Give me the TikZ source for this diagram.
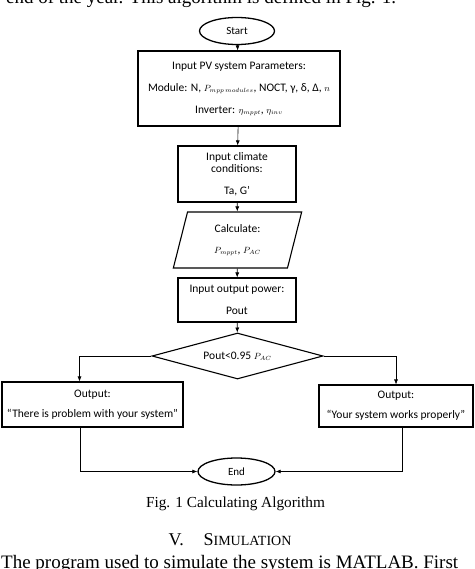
\documentclass[tikz,border=0pt]{standalone}
\usepackage{fontspec}
\setmainfont{Liberation Serif}
\newfontfamily\flowfont{Carlito}
\usetikzlibrary{shapes.geometric,arrows.meta}

\newcommand{\smallmath}[1]{{\fontsize{9}{12}\selectfont$#1$}}

\tikzset{
  box/.style={draw, line width=1.1pt, minimum width=118pt, minimum height=56pt,
    align=center, inner sep=0pt, font=\flowfont\fontsize{11.5}{12}\selectfont},
  term/.style={draw, ellipse, line width=1.3pt, minimum width=75pt,
    minimum height=27pt, inner sep=0pt, font=\flowfont\fontsize{11}{12}\selectfont},
  calcbox/.style={box, trapezium, trapezium left angle=78,
    trapezium right angle=102, trapezium stretches=true},
  ask/.style={box, diamond, aspect=3.7},
  link/.style={draw, line width=0.6pt, -{Latex[length=5pt,width=4pt]}},
  page/.style={font=\fontsize{19}{22}\selectfont, inner sep=0pt},
}

\begin{document}
\begin{tikzpicture}[x=1pt,y=-1pt]
  \useasboundingbox (0,0) rectangle (474,569);
  \clip (0,0) rectangle (474,569);

  \node[page, anchor=base west] (textA) at (6,4)
    {end of the year. This algorithm is defined in Fig. 1.};

  \node[term] (start) at (237,31) {Start};
  \node[box, minimum width=202pt, minimum height=75pt] (param) at (239,88.5)
    {Input PV system Parameters:\\[10pt]
     Module: N, \smallmath{P_{mpp\,modules}}, NOCT, γ, δ, Δ, \smallmath{n}\\[10pt]
     Inverter: \smallmath{\eta_{mppt}}, \smallmath{\eta_{inv}}};
  \node[box] (climate) at (237,174)
    {Input climate\\conditions:\\[10pt]Ta, G’};
  \node[calcbox, minimum width=129pt] (calc) at (237.5,240)
    {Calculate:\\[9pt]\smallmath{P_{mppt}}, \smallmath{P_{AC}}};
  \node[box, minimum height=44pt] (power) at (237,300)
    {Input output power:\\[10pt]Pout};
  \node[ask, minimum width=171pt, minimum height=46pt] (check) at (237.5,356)
    {Pout<0.95 \smallmath{P_{AC}}};
  \node[box, minimum width=181pt, minimum height=45pt] (bad) at (92.5,404.5)
    {Output:\\[8pt]“There is problem with your system”};
  \node[box, minimum width=154pt, minimum height=42pt] (good) at (396,406)
    {Output:\\[8pt]“Your system works properly”};
  \node[term, minimum width=77pt] (end) at (236.5,471.5) {End};

  \draw[link] (start) to (param);
  \draw[link] (param) to (climate);
  \draw[link] (climate) to (calc);
  \draw[link] (calc) to (power);
  \draw[link] (power) to (check);
  \draw[link] (check.west) -| ([xshift=-13pt]bad.north);
  \draw[link] (check.east) -| (good.north);
  \draw[link] ([xshift=-12pt]bad.south) |- (end.west);
  \draw[link] ([xshift=6pt]good.south) |- (end.east);

  \node[inner sep=0pt, anchor=base] (caption) at (235.5,507)
    {\fontsize{15.3}{18}\selectfont Fig. 1 Calculating Algorithm};
  \node[inner sep=0pt, anchor=base] (section) at (230,545)
    {\fontsize{18}{20}\selectfont V.\hspace{1.1em}S{\fontsize{14}{16}\selectfont IMULATION}};
  \node[page, anchor=base west] (textB) at (1,568)
    {The program used to simulate the system is MATLAB. First};
\end{tikzpicture}
\end{document}
